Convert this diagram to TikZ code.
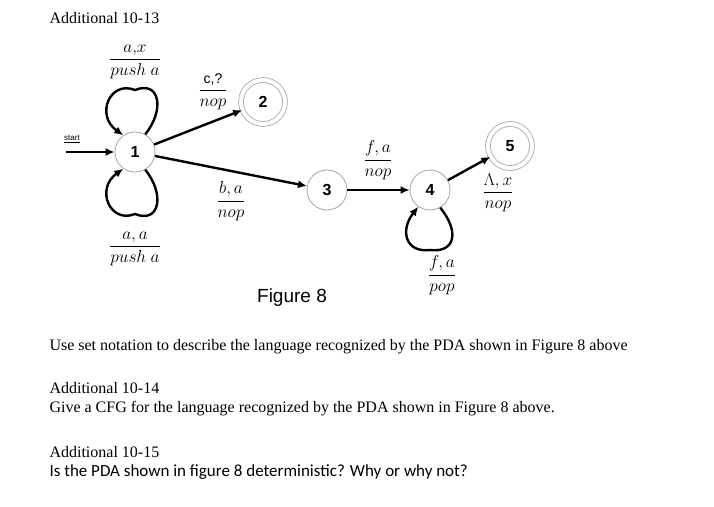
\documentclass[tikz,border=0pt]{standalone}
\usepackage{amsmath}
\usepackage{fontspec}
\setmainfont{Liberation Serif}
\newfontfamily\sansf{Liberation Sans}
\newfontfamily\calf{Carlito}
\usetikzlibrary{arrows.meta}
\begin{document}
\begin{tikzpicture}[x=1pt,y=-1pt,
 st/.style={circle,draw=gray!70,thick,minimum size=40pt,inner sep=0pt,font=\sansf\bfseries\fontsize{16}{16}\selectfont,fill=white},
 acc/.style={st,double=white,double distance=4pt,minimum size=44pt},
 tr/.style={line width=2.4pt,-{Latex[length=9pt,width=8pt]}},
 lb/.style={font=\fontsize{18}{18}\selectfont},
 txt/.style={anchor=west,font=\fontsize{16}{19}\selectfont}]
\useasboundingbox (0,0) rectangle (714,506);
\node[txt] (t1) at (46,18) {Additional 10-13};
\node (s1) [st] at (135,152) {1};
\node (s2) [acc] at (263,102) {2};
\node (s3) [st] at (327,190) {3};
\node (s4) [st] at (430,190) {4};
\node (s5) [acc] at (510,146) {5};
\coordinate (st0) at (66,152);
\node[font=\sansf\fontsize{8}{8}\selectfont,anchor=south] (stl) at (72,146) {\underline{start}};
\draw[tr] (st0) -- (s1);
\draw[tr] (s1) -- (s2);
\draw[tr] (s1) -- (s3);
\draw[tr] (s3) -- (s4);
\draw[tr] (s4) -- (s5);
\draw[tr] (s1.60) .. controls (165,110) and (160,80) .. (135,90) .. controls (110,80) and (95,115) .. (s1.125);
\draw[tr] (s1.-60) .. controls (165,194) and (160,224) .. (135,214) .. controls (110,224) and (95,189) .. (s1.-125);
\draw[tr] (s4.-60) .. controls (460,232) and (455,253) .. (430,250) .. controls (405,253) and (400,230) .. (s4.-125);
\node[lb] (l1) at (135,62) {$\dfrac{a{,}x}{push\ a}$};
\node[lb] (l2) at (135,249) {$\dfrac{a,a}{push\ a}$};
\node[lb] (l3) at (213,92) {$\dfrac{\text{\sansf\fontsize{14}{14}\selectfont c,?}}{nop}$};
\node[lb] (l4) at (231,201) {$\dfrac{b,a}{nop}$};
\node[lb] (l5) at (378,160) {$\dfrac{f,a}{nop}$};
\node[lb] (l6) at (498,193) {$\dfrac{\Lambda,x}{nop}$};
\node[lb] (l7) at (442,275) {$\dfrac{f,a}{pop}$};
\node[font=\sansf\fontsize{19}{19}\selectfont] (fig) at (292,298) {Figure 8};
\node[txt] (q1) at (46,347) {Use set notation to describe the language recognized by the PDA shown in Figure 8 above};
\node[txt] (q2) at (46,388) {Additional 10-14};
\node[txt] (q3) at (46,409) {Give a CFG for the language recognized by the PDA shown in Figure 8 above.};
\node[txt] (q4) at (46,452) {Additional 10-15};
\node[txt,font=\calf\fontsize{17}{19}\selectfont] (q5) at (46,472) {Is the PDA shown in figure 8 deterministic? Why or why not?};
\end{tikzpicture}
\end{document}
